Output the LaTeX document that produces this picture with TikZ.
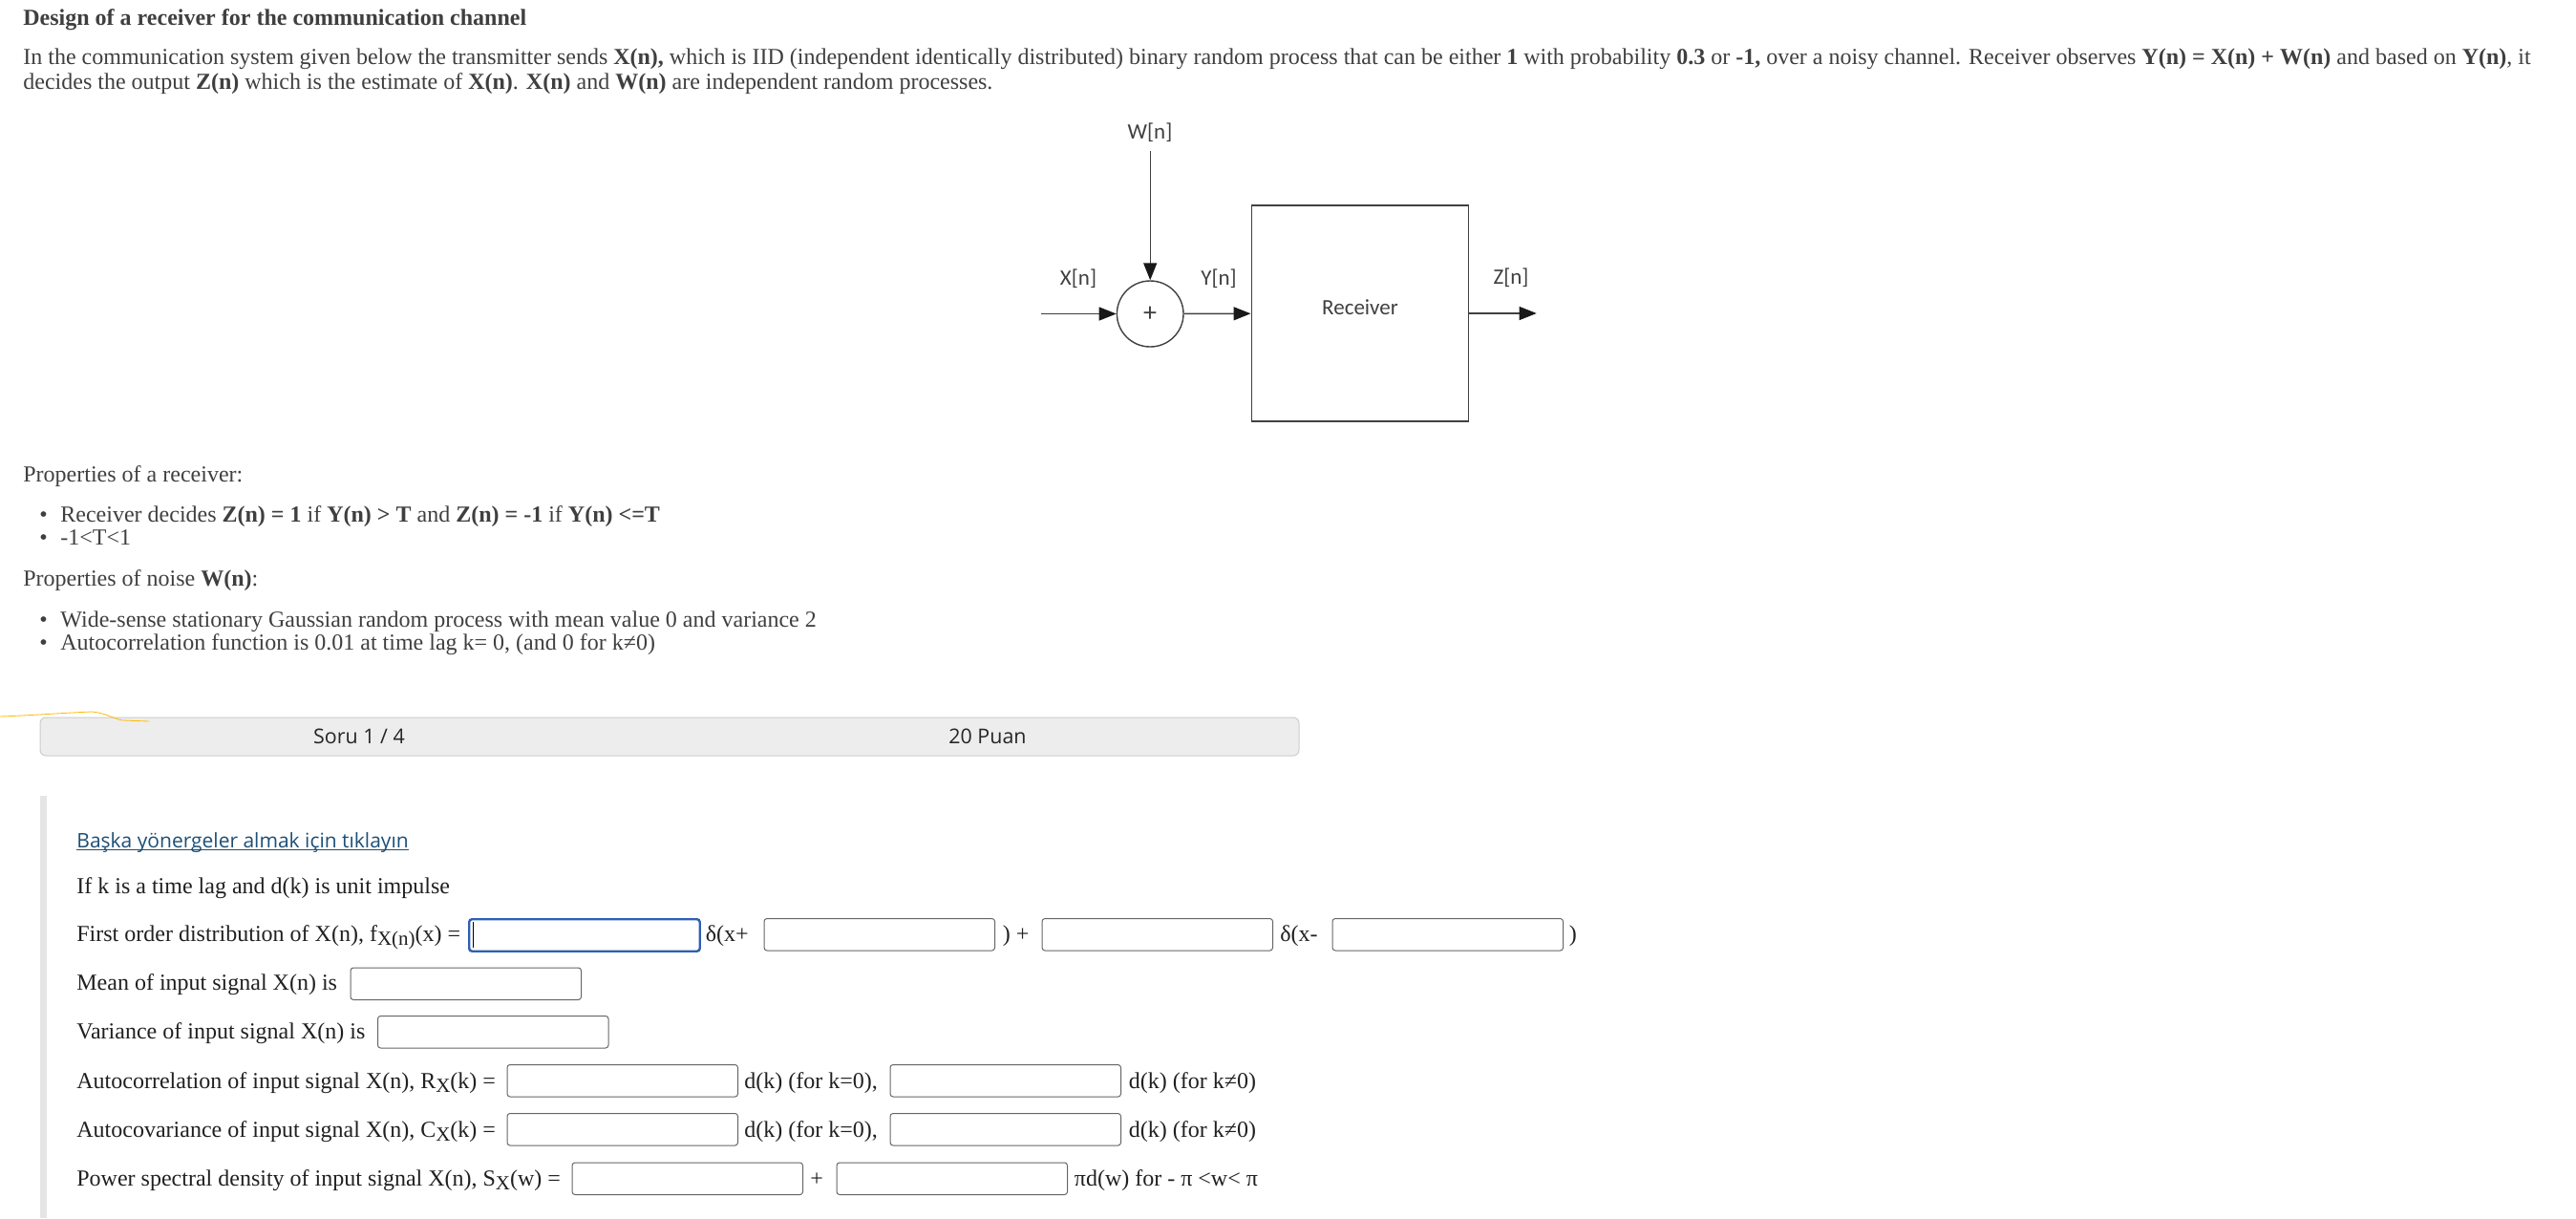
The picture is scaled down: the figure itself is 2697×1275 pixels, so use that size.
\documentclass[tikz,border=0pt]{standalone}
\usepackage{fontspec}
\setmainfont{Liberation Serif}
\newfontfamily\labelfont{Carlito}
\newfontfamily\webfont{Open Sans}
\usepackage{xcolor}
\usetikzlibrary{positioning,shapes.geometric,arrows.meta}
\definecolor{bodygray}{HTML}{3F3F3F}
\definecolor{formgray}{HTML}{202020}
\definecolor{linkblue}{HTML}{1D4F76}
\definecolor{focusblue}{HTML}{2F5FB3}
\newcommand{\lowsub}[1]{\raisebox{-0.4ex}{\fontsize{10.5}{12}\selectfont #1}}
\tikzset{
    bodytext/.style={anchor=base west,inner sep=0pt,text=bodygray,font=\fontsize{12}{14}\selectfont},
    formtext/.style={anchor=base west,inner sep=0pt,text=formgray,font=\fontsize{12}{14}\selectfont},
    difflabel/.style={inner sep=0pt,text=black!75,font=\labelfont\fontsize{11.5}{13}\selectfont},
    weblabel/.style={inner sep=0pt,text=black!85,font=\webfont\fontsize{10.7}{13}\selectfont},
    inputbox/.style={draw=black!60,line width=0.5pt,rounded corners=1.5pt,fill=white,anchor=north west,
        inner sep=0pt,minimum width=120.75pt,minimum height=16.75pt},
    sigline/.style={draw=black!75,line width=0.7pt},
    sigarrow/.style={sigline,-{Triangle[length=9pt,width=7pt,color=black!90]}},
}
\begin{document}
\begin{tikzpicture}[x=0.5pt,y=0.5pt,yscale=-1,xscale=1]
        \useasboundingbox (0,0) rectangle (2697,1275);
        % Text Node
        \node (title) [bodytext] at (24,26) {\textbf{Design of a receiver for the communication channel}};
        % Text Node
        \node (introa) [bodytext] at (24,67.5) {In the communication system given below the transmitter sends \textbf{X(n),} which is IID (independent identically distributed) binary random process that can be either \textbf{1} with probability \textbf{0.3} or \textbf{-1,} over a noisy channel. Receiver observes \textbf{Y(n) = X(n) + W(n)} and based on \textbf{Y(n)}, it};
        % Text Node
        \node (introb) [bodytext] at (24,93.5) {decides the output \textbf{Z(n)} which is the estimate of \textbf{X(n)}. \textbf{X(n)} and \textbf{W(n)} are independent random processes.};
        %Block diagram
        \node (adder) [ellipse,draw=black!75,line width=0.7pt,inner sep=0pt,minimum width=34.8pt,minimum height=34.5pt,text=black!75,font=\labelfont\fontsize{14}{14}\selectfont] at (1204.2,328.5) {+};
        \node (receiver) [rectangle,draw=black!75,line width=0.7pt,inner sep=0pt,minimum width=113.5pt,minimum height=113pt] at (1423.7,328) {};
        \coordinate (wtop) at (1204.2,158);
        \coordinate (xin) at (1090,328.5);
        \coordinate (zout) at (1608.7,328);
        \draw [sigarrow] (wtop) -- (adder);
        \draw [sigarrow] (xin) -- (adder);
        \draw [sigarrow] (adder) -- (receiver);
        \draw [sigarrow] (receiver) -- (zout);
        % Text Node
        \node (wlabel) [difflabel] at (1204,139) {W[n]};
        \node (xlabel) [difflabel] at (1129,292) {X[n]};
        \node (ylabel) [difflabel] at (1276,292) {Y[n]};
        \node (zlabel) [difflabel] at (1582,291) {Z[n]};
        \node (rxlabel) [difflabel] at (1424,322) {Receiver};
        % Text Node
        \node (proprx) [bodytext] at (24,504) {Properties of a receiver:};
        \node (bulleta) [bodytext] at (41,546) {•};
        \node (rxone) [bodytext] at (63,546) {Receiver decides \textbf{Z(n) = 1} if \textbf{Y(n) > T} and \textbf{Z(n) = -1} if \textbf{Y(n)} \textbf{<=T}};
        \node (bulletb) [bodytext] at (41,570.5) {•};
        \node (rxtwo) [bodytext] at (63,570.5) {-1<T<1};
        \node (propnoise) [bodytext] at (24,613) {Properties of noise \textbf{W(n)}:};
        \node (bulletc) [bodytext] at (41,656) {•};
        \node (noiseone) [bodytext] at (63,656) {Wide-sense stationary Gaussian random process with mean value 0 and variance 2};
        \node (bulletd) [bodytext] at (41,680.5) {•};
        \node (noisetwo) [bodytext] at (63,680.5) {Autocorrelation function is 0.01 at time lag k= 0, (and 0 for k≠0)};
        %Question bar
        \draw [draw=black!20,fill=black!7,line width=0.5pt,rounded corners=3pt] (42,751) rectangle (1360,791);
        \draw [draw=orange!55!yellow,line width=0.4pt] (0,750) .. controls (30,749) and (70,746) .. (96,745) .. controls (110,746) and (118,752) .. (128,754) -- (156,755);
        \node (soru) [weblabel] at (376,771) {Soru 1 / 4};
        \node (puan) [weblabel] at (1034,771) {20 Puan};
        %Form panel
        \fill [black!10] (42,833) rectangle (49,1275);
        \node (hint) [anchor=base west,inner sep=0pt,text=linkblue,font=\webfont\fontsize{10.5}{13}\selectfont] at (80,887) {\underline{\smash{Başka yönergeler almak için tıklayın}}};
        \node (iflag) [formtext] at (80,935) {If k is a time lag and d(k) is unit impulse};
        % Text Node
        \node (firstorder) [formtext] at (80,985) {First order distribution of X(n), f\lowsub{X(n)}(x) =};
        \node (boxfa) [inputbox,draw=focusblue,line width=1.2pt] at (490,961) {};
        \draw [black,line width=0.6pt] (495.5,965) -- (495.5,992);
        \node (deltaa) [formtext] at (738.5,985) {δ(x+};
        \node (boxfb) [inputbox] at (799.5,961) {};
        \node (plusa) [formtext] at (1049.5,985) {) +};
        \node (boxfc) [inputbox] at (1090.5,961) {};
        \node (deltab) [formtext] at (1340,985) {δ(x-};
        \node (boxfd) [inputbox] at (1394.5,961) {};
        \node (closef) [formtext] at (1642.5,985) {)};
        % Text Node
        \node (meantext) [formtext] at (80,1036) {Mean of input signal X(n) is};
        \node (boxmean) [inputbox] at (366.5,1012.5) {};
        \node (vartext) [formtext] at (80,1087) {Variance of input signal X(n) is};
        \node (boxvar) [inputbox] at (395,1063) {};
        % Text Node
        \node (autotext) [formtext] at (80,1139) {Autocorrelation of input signal X(n), R\lowsub{X}(k) =};
        \node (boxra) [inputbox] at (530.5,1114) {};
        \node (ratext) [formtext] at (779,1139) {d(k) (for k=0),};
        \node (boxrb) [inputbox] at (931.5,1114) {};
        \node (rbtext) [formtext] at (1181.5,1139) {d(k) (for k≠0)};
        % Text Node
        \node (covtext) [formtext] at (80,1190) {Autocovariance of input signal X(n), C\lowsub{X}(k) =};
        \node (boxca) [inputbox] at (530.5,1165) {};
        \node (catext) [formtext] at (779,1190) {d(k) (for k=0),};
        \node (boxcb) [inputbox] at (931.5,1165) {};
        \node (cbtext) [formtext] at (1181.5,1190) {d(k) (for k≠0)};
        % Text Node
        \node (psdtext) [formtext] at (80,1241) {Power spectral density of input signal X(n), S\lowsub{X}(w) =};
        \node (boxsa) [inputbox] at (598.5,1216.5) {};
        \node (plusb) [formtext] at (848,1241) {+};
        \node (boxsb) [inputbox] at (875.5,1216.5) {};
        \node (sbtext) [formtext] at (1124.5,1241) {πd(w) for - π <w< π};
\end{tikzpicture}
\end{document}
